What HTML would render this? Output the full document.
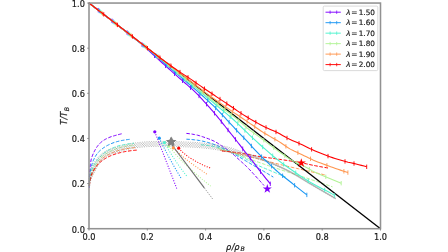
<!DOCTYPE html>
<html lang="en"><head><meta charset="utf-8"><title>T/TB vs ρ/ρB</title>
<style>html,body{margin:0;padding:0;background:#fff}svg{display:block}</style></head>
<body>
<svg width="448" height="252" viewBox="0 0 448 252">
<rect width="448" height="252" fill="#fff"/>
<g fill="none" stroke-linejoin="round">
<path d="M89.30 188.00 L89.30 186.77 L89.31 185.54 L89.32 184.32 L89.34 183.09 L89.36 181.86 L89.39 180.64 L89.41 179.41 L89.44 178.19 L89.47 176.97 L89.51 175.74 L89.55 174.52 L89.61 173.28 L89.68 172.05 L89.77 170.82 L89.86 169.58 L89.98 168.35 L90.10 167.13 L90.23 165.90 L90.38 164.69 L90.54 163.48 L90.71 162.28 L90.89 161.09 L91.10 159.91 L91.39 158.72 L91.74 157.53 L92.14 156.35 L92.59 155.18 L93.08 154.03 L93.60 152.90 L94.13 151.79 L94.68 150.71 L95.24 149.66 L95.85 148.61 L96.52 147.56 L97.24 146.52 L98.01 145.51 L98.81 144.54 L99.65 143.61 L100.51 142.75 L101.40 141.95 L102.31 141.23 L103.29 140.54 L104.32 139.89 L105.41 139.27 L106.52 138.68 L107.65 138.14 L108.79 137.63 L109.93 137.17 L111.06 136.74 L112.22 136.36 L113.40 136.00 L114.58 135.66 L115.77 135.34 L116.96 135.01 L118.14 134.69 L119.33 134.38 L120.51 134.07 L121.71 133.78 L122.90 133.50" stroke="#8000ff" stroke-width="1.0" stroke-dasharray="3.6 1.6"/>
<path d="M186.40 133.40 L188.03 133.55 L189.65 133.75 L191.27 133.98 L192.87 134.25 L194.47 134.55 L196.06 134.87 L197.63 135.21 L199.20 135.63 L200.76 136.11 L202.31 136.63 L203.85 137.16 L205.39 137.70 L206.92 138.24 L208.46 138.80 L209.98 139.38 L211.49 140.00 L212.97 140.65 L214.43 141.36 L215.85 142.13 L217.26 142.95 L218.65 143.81 L220.03 144.69 L221.40 145.57 L222.76 146.46 L224.11 147.37 L225.46 148.29 L226.79 149.23 L228.10 150.19 L229.40 151.17 L230.67 152.18 L231.92 153.21 L233.16 154.26 L234.38 155.34 L235.58 156.44 L236.78 157.54 L237.98 158.65 L239.18 159.75 L240.38 160.85 L241.59 161.94 L242.79 163.03 L243.99 164.13 L245.18 165.24 L246.36 166.37 L247.51 167.51 L248.65 168.67 L249.77 169.85 L250.89 171.03 L251.99 172.23 L253.10 173.43 L254.20 174.63 L255.30 175.82 L256.40 177.02 L257.49 178.22 L258.59 179.43 L259.68 180.64 L260.76 181.85 L261.84 183.06 L262.92 184.28 L264.00 185.50" stroke="#8000ff" stroke-width="1.0" stroke-dasharray="3.6 1.6"/>
<path d="M89.30 187.00 L89.31 185.77 L89.33 184.54 L89.36 183.31 L89.41 182.08 L89.46 180.85 L89.52 179.63 L89.58 178.41 L89.65 177.19 L89.75 175.96 L89.89 174.73 L90.05 173.51 L90.23 172.28 L90.44 171.06 L90.67 169.85 L90.91 168.64 L91.17 167.45 L91.44 166.27 L91.73 165.10 L92.07 163.92 L92.47 162.73 L92.90 161.55 L93.39 160.38 L93.90 159.22 L94.46 158.10 L95.04 157.00 L95.64 155.94 L96.27 154.94 L96.92 153.98 L97.65 153.05 L98.45 152.14 L99.33 151.26 L100.25 150.40 L101.22 149.58 L102.22 148.79 L103.23 148.04 L104.25 147.35 L105.27 146.70 L106.30 146.08 L107.36 145.48 L108.46 144.91 L109.57 144.37 L110.71 143.85 L111.86 143.37 L113.01 142.92 L114.17 142.50 L115.33 142.13 L116.50 141.78 L117.68 141.46 L118.87 141.16 L120.08 140.88 L121.28 140.62 L122.49 140.39 L123.70 140.18 L124.91 139.98 L126.12 139.79 L127.33 139.62 L128.55 139.46 L129.77 139.32 L131.00 139.20" stroke="#1996f3" stroke-width="1.0" stroke-dasharray="3.6 1.6"/>
<path d="M186.40 139.20 L188.03 139.27 L189.66 139.38 L191.28 139.51 L192.90 139.67 L194.52 139.84 L196.13 140.03 L197.74 140.24 L199.35 140.49 L200.95 140.79 L202.55 141.12 L204.13 141.47 L205.71 141.85 L207.28 142.27 L208.84 142.74 L210.39 143.24 L211.94 143.76 L213.48 144.29 L215.01 144.83 L216.54 145.40 L218.06 145.99 L219.57 146.60 L221.06 147.23 L222.55 147.89 L224.02 148.58 L225.47 149.31 L226.92 150.05 L228.36 150.82 L229.80 151.58 L231.23 152.36 L232.65 153.15 L234.06 153.96 L235.47 154.77 L236.88 155.59 L238.28 156.41 L239.68 157.24 L241.08 158.07 L242.48 158.90 L243.88 159.74 L245.27 160.57 L246.67 161.40 L248.07 162.23 L249.47 163.06 L250.87 163.88 L252.28 164.71 L253.68 165.53 L255.09 166.35 L256.49 167.17 L257.90 167.98 L259.32 168.79 L260.73 169.60 L262.14 170.41 L263.54 171.23 L264.94 172.06 L266.34 172.89 L267.74 173.72 L269.13 174.56 L270.52 175.40 L271.91 176.25 L273.30 177.10" stroke="#1996f3" stroke-width="1.0" stroke-dasharray="3.6 1.6"/>
<path d="M89.30 186.00 L89.32 184.82 L89.38 183.64 L89.46 182.47 L89.56 181.30 L89.68 180.14 L89.80 178.98 L89.95 177.82 L90.14 176.66 L90.37 175.49 L90.63 174.33 L90.93 173.17 L91.25 172.01 L91.60 170.88 L91.97 169.76 L92.36 168.67 L92.76 167.60 L93.18 166.56 L93.66 165.53 L94.20 164.50 L94.79 163.48 L95.43 162.47 L96.11 161.48 L96.83 160.50 L97.58 159.55 L98.35 158.62 L99.15 157.72 L99.95 156.85 L100.77 156.01 L101.58 155.21 L102.42 154.44 L103.30 153.70 L104.23 152.97 L105.19 152.27 L106.17 151.60 L107.18 150.95 L108.20 150.34 L109.23 149.76 L110.26 149.22 L111.30 148.70 L112.36 148.20 L113.43 147.72 L114.53 147.26 L115.63 146.84 L116.74 146.44 L117.86 146.09 L118.98 145.77 L120.11 145.48 L121.25 145.21 L122.40 144.97 L123.55 144.74 L124.71 144.52 L125.87 144.32 L127.02 144.13 L128.18 143.95 L129.34 143.78 L130.50 143.61 L131.67 143.46 L132.83 143.32 L134.00 143.20" stroke="#4df3ce" stroke-width="1.0" stroke-dasharray="3.6 1.6"/>
<path d="M200.90 144.80 L202.46 144.88 L204.00 145.00 L205.54 145.16 L207.08 145.36 L208.61 145.57 L210.13 145.81 L211.64 146.07 L213.15 146.34 L214.66 146.64 L216.15 147.01 L217.64 147.43 L219.12 147.90 L220.59 148.38 L222.06 148.85 L223.52 149.34 L224.98 149.84 L226.43 150.37 L227.88 150.91 L229.32 151.46 L230.76 152.02 L232.20 152.58 L233.63 153.16 L235.06 153.75 L236.48 154.36 L237.89 154.98 L239.29 155.62 L240.68 156.28 L242.07 156.96 L243.45 157.65 L244.82 158.36 L246.19 159.07 L247.55 159.80 L248.90 160.55 L250.23 161.33 L251.57 162.12 L252.91 162.89 L254.26 163.62 L255.63 164.31 L257.02 164.97 L258.42 165.62 L259.83 166.24 L261.25 166.86 L262.67 167.46 L264.10 168.05 L265.53 168.64 L266.96 169.23 L268.39 169.82 L269.81 170.42 L271.23 171.02 L272.65 171.62 L274.08 172.21 L275.50 172.81 L276.93 173.40 L278.35 173.99 L279.78 174.58 L281.21 175.16 L282.64 175.74 L284.07 176.32 L285.50 176.90" stroke="#4df3ce" stroke-width="1.0" stroke-dasharray="3.6 1.6"/>
<path d="M89.30 186.00 L89.35 184.84 L89.44 183.68 L89.56 182.53 L89.70 181.39 L89.86 180.25 L90.04 179.13 L90.28 178.00 L90.56 176.88 L90.88 175.76 L91.24 174.64 L91.63 173.53 L92.05 172.44 L92.48 171.36 L92.93 170.30 L93.38 169.26 L93.85 168.24 L94.36 167.21 L94.90 166.18 L95.47 165.15 L96.08 164.13 L96.72 163.12 L97.38 162.14 L98.07 161.17 L98.78 160.24 L99.51 159.34 L100.26 158.48 L101.03 157.66 L101.82 156.89 L102.65 156.16 L103.53 155.45 L104.47 154.78 L105.45 154.13 L106.45 153.51 L107.48 152.91 L108.51 152.34 L109.53 151.79 L110.55 151.27 L111.58 150.76 L112.63 150.27 L113.69 149.79 L114.76 149.34 L115.84 148.91 L116.92 148.52 L118.01 148.15 L119.11 147.82 L120.22 147.50 L121.33 147.20 L122.45 146.92 L123.58 146.66 L124.72 146.42 L125.85 146.20 L126.99 146.00 L128.12 145.82 L129.26 145.65 L130.40 145.49 L131.55 145.34 L132.70 145.21 L133.85 145.10 L135.00 145.00" stroke="#b2f396" stroke-width="1.0" stroke-dasharray="3.6 1.6"/>
<path d="M217.70 148.40 L219.69 148.92 L221.67 149.46 L223.65 150.02 L225.62 150.58 L227.59 151.17 L229.55 151.76 L231.51 152.37 L233.46 153.00 L235.41 153.64 L237.35 154.30 L239.28 155.00 L241.20 155.71 L243.12 156.45 L245.03 157.19 L246.94 157.94 L248.86 158.69 L250.77 159.43 L252.69 160.16 L254.62 160.86 L256.55 161.55 L258.49 162.23 L260.42 162.91 L262.36 163.58 L264.31 164.25 L266.25 164.91 L268.19 165.57 L270.14 166.22 L272.08 166.87 L274.03 167.52 L275.98 168.17 L277.93 168.81 L279.88 169.46 L281.82 170.10 L283.78 170.73 L285.73 171.36 L287.68 171.99 L289.64 172.61 L291.59 173.24 L293.55 173.86 L295.51 174.48 L297.46 175.10 L299.42 175.72 L301.37 176.35 L303.32 176.99 L305.27 177.62 L307.22 178.27 L309.17 178.91 L311.12 179.56 L313.07 180.21 L315.01 180.86 L316.96 181.51 L318.90 182.16 L320.85 182.82 L322.79 183.48 L324.73 184.14 L326.68 184.80 L328.62 185.46 L330.56 186.13 L332.50 186.80" stroke="#b2f396" stroke-width="1.0" stroke-dasharray="3.6 1.6"/>
<path d="M89.30 186.00 L89.40 184.86 L89.53 183.73 L89.70 182.61 L89.90 181.50 L90.13 180.42 L90.41 179.33 L90.75 178.26 L91.14 177.19 L91.57 176.13 L92.03 175.08 L92.51 174.04 L93.01 173.01 L93.51 171.99 L94.01 170.98 L94.51 169.97 L95.03 168.94 L95.56 167.91 L96.11 166.88 L96.68 165.85 L97.27 164.84 L97.87 163.85 L98.50 162.89 L99.16 161.95 L99.83 161.06 L100.54 160.22 L101.26 159.43 L102.02 158.70 L102.85 158.01 L103.75 157.35 L104.69 156.71 L105.68 156.11 L106.70 155.54 L107.73 154.98 L108.76 154.46 L109.78 153.95 L110.80 153.47 L111.82 153.00 L112.86 152.54 L113.91 152.10 L114.97 151.68 L116.04 151.29 L117.11 150.93 L118.19 150.59 L119.27 150.28 L120.36 149.99 L121.46 149.72 L122.56 149.46 L123.67 149.21 L124.79 148.99 L125.90 148.78 L127.01 148.60 L128.13 148.42 L129.25 148.26 L130.37 148.10 L131.49 147.95 L132.61 147.82 L133.74 147.70 L134.87 147.59 L136.00 147.50" stroke="#ff964f" stroke-width="1.0" stroke-dasharray="3.6 1.6"/>
<path d="M220.00 150.00 L221.80 150.34 L223.61 150.68 L225.41 151.04 L227.21 151.40 L229.00 151.77 L230.80 152.14 L232.59 152.53 L234.39 152.92 L236.18 153.31 L237.96 153.72 L239.75 154.14 L241.53 154.57 L243.31 155.01 L245.09 155.45 L246.87 155.91 L248.65 156.36 L250.43 156.82 L252.20 157.28 L253.98 157.74 L255.76 158.19 L257.53 158.65 L259.31 159.11 L261.08 159.58 L262.86 160.05 L264.63 160.52 L266.41 160.99 L268.18 161.46 L269.95 161.93 L271.73 162.39 L273.50 162.86 L275.28 163.31 L277.06 163.77 L278.84 164.21 L280.62 164.65 L282.40 165.08 L284.18 165.51 L285.97 165.93 L287.76 166.35 L289.54 166.76 L291.33 167.17 L293.12 167.58 L294.91 167.99 L296.70 168.40 L298.49 168.81 L300.28 169.21 L302.06 169.62 L303.85 170.03 L305.64 170.45 L307.43 170.86 L309.21 171.28 L311.00 171.69 L312.79 172.10 L314.58 172.52 L316.36 172.93 L318.15 173.35 L319.94 173.76 L321.73 174.17 L323.51 174.59 L325.30 175.00" stroke="#ff964f" stroke-width="1.0" stroke-dasharray="3.6 1.6"/>
<path d="M89.30 186.00 L89.47 184.89 L89.64 183.79 L89.82 182.68 L90.00 181.57 L90.19 180.47 L90.37 179.35 L90.55 178.23 L90.75 177.13 L90.98 176.05 L91.28 175.00 L91.66 173.96 L92.11 172.94 L92.62 171.92 L93.18 170.93 L93.79 169.95 L94.42 168.99 L95.06 168.06 L95.71 167.16 L96.37 166.28 L97.07 165.42 L97.82 164.57 L98.61 163.75 L99.42 162.95 L100.26 162.19 L101.12 161.47 L101.98 160.79 L102.87 160.13 L103.79 159.49 L104.73 158.87 L105.70 158.28 L106.68 157.71 L107.68 157.17 L108.68 156.66 L109.69 156.18 L110.70 155.74 L111.73 155.32 L112.78 154.91 L113.84 154.53 L114.90 154.17 L115.98 153.82 L117.06 153.50 L118.13 153.20 L119.21 152.91 L120.30 152.64 L121.39 152.38 L122.48 152.13 L123.58 151.90 L124.68 151.68 L125.79 151.48 L126.89 151.30 L127.99 151.13 L129.10 150.97 L130.21 150.81 L131.32 150.67 L132.43 150.53 L133.55 150.40 L134.66 150.29 L135.78 150.19 L136.90 150.10" stroke="#ff0000" stroke-width="1.0" stroke-dasharray="3.6 1.6"/>
<path d="M221.90 151.00 L223.72 151.14 L225.54 151.29 L227.35 151.46 L229.17 151.65 L230.98 151.85 L232.79 152.06 L234.60 152.28 L236.40 152.51 L238.21 152.75 L240.01 153.00 L241.80 153.30 L243.60 153.62 L245.39 153.97 L247.17 154.32 L248.96 154.68 L250.75 155.03 L252.54 155.37 L254.34 155.69 L256.14 155.98 L257.94 156.26 L259.74 156.53 L261.54 156.79 L263.34 157.05 L265.15 157.30 L266.95 157.55 L268.76 157.80 L270.56 158.05 L272.37 158.29 L274.18 158.54 L275.98 158.80 L277.78 159.06 L279.59 159.32 L281.39 159.59 L283.19 159.86 L284.99 160.14 L286.80 160.41 L288.60 160.68 L290.40 160.96 L292.20 161.24 L294.00 161.53 L295.80 161.82 L297.59 162.12 L299.39 162.44 L301.18 162.76 L302.97 163.10 L304.75 163.48 L306.53 163.87 L308.31 164.27 L310.09 164.66 L311.87 165.05 L313.66 165.41 L315.44 165.76 L317.23 166.10 L319.02 166.43 L320.82 166.76 L322.61 167.08 L324.41 167.40 L326.20 167.70 L328.00 168.00" stroke="#ff0000" stroke-width="1.0" stroke-dasharray="3.6 1.6"/>
<path d="M88.82 185.97 L88.92 184.19 L89.07 182.41 L89.05 180.62 L89.08 178.82 L89.23 176.98 L89.50 175.12 L89.85 173.28 L90.27 171.47 L90.73 169.69 L91.32 167.99 L92.10 166.34 L92.98 164.67 L93.93 163.02 L94.96 161.39 L96.06 159.81 L97.23 158.30 L98.46 156.87 L99.76 155.54 L101.14 154.30 L102.67 153.13 L104.29 152.05 L105.98 151.06 L107.71 150.18 L109.45 149.44 L111.21 148.81 L112.99 148.27 L114.75 147.79 L116.49 147.34 L118.19 146.90 L119.88 146.44 L121.58 145.98 L123.29 145.51 L125.02 145.05 L126.77 144.60 L128.52 144.18 L130.30 143.79 L132.09 143.44 L133.90 143.15 L135.68 142.92 L137.44 142.71 L139.20 142.51 L140.98 142.32 L142.76 142.15 L144.54 141.99 L146.34 141.86 L148.13 141.74 L149.94 141.66 L151.73 141.60 L153.51 141.57 L155.27 141.54 L157.03 141.51 L158.80 141.49 L160.57 141.47 L162.33 141.45 L164.10 141.43 L165.87 141.42 L167.64 141.41 L169.41 141.40 L171.19 141.40 L173.01 141.43 L174.81 141.51 L176.59 141.61 L178.35 141.71 L180.09 141.80 L181.84 141.88 L183.60 141.95 L185.36 142.03 L187.12 142.10 L188.89 142.18 L190.66 142.26 L192.43 142.35 L194.20 142.44 L195.97 142.55 L197.75 142.67 L199.53 142.80 L201.31 142.95 L203.08 143.12 L204.86 143.31 L206.63 143.50 L208.40 143.71 L210.16 143.93 L211.92 144.16 L213.68 144.40 L215.45 144.66 L217.22 144.94 L218.99 145.25 L220.75 145.58 L222.51 145.92 L224.26 146.29 L226.00 146.67 L227.74 147.06 L229.46 147.50 L231.19 148.00 L232.92 148.54 L234.63 149.12 L236.31 149.72 L237.98 150.33 L239.63 150.93 L241.27 151.51 L242.91 152.06 L244.57 152.58 L246.25 153.09 L247.94 153.59 L249.64 154.09 L251.34 154.60 L253.04 155.14 L254.73 155.70 L256.41 156.30 L258.07 156.93 L259.72 157.59 L261.36 158.26 L263.00 158.96 L264.62 159.67 L266.24 160.39 L267.85 161.13 L269.48 161.81 L271.11 162.49 L272.74 163.16 L274.36 163.85 L275.99 164.55 L277.61 165.26 L279.22 165.98 L280.83 166.71 L282.44 167.45 L284.03 168.21 L285.62 168.98 L287.20 169.77 L288.78 170.57 L290.34 171.38 L291.89 172.22 L293.43 173.08 L294.97 173.95 L296.49 174.84 L298.01 175.74 L299.53 176.65 L301.04 177.57 L302.54 178.49 L304.05 179.41 L305.55 180.34 L307.06 181.26 L308.56 182.17 L310.07 183.08 L311.59 183.98 L313.11 184.87 L314.63 185.76 L316.15 186.65 L317.67 187.54 L319.19 188.43 L320.71 189.32 L322.23 190.21 L323.76 191.10 L325.28 191.98 L326.80 192.87 L328.32 193.76 L329.85 194.64 L331.37 195.53 L332.89 196.42 L334.42 197.30 L335.94 198.19" stroke="#808080" stroke-width="1" stroke-dasharray="1 1.3" stroke-dashoffset="0.0" opacity="0.6"/>
<path d="M89.06 185.99 L89.16 184.21 L89.32 182.44 L89.42 180.67 L89.57 178.91 L89.84 177.13 L90.22 175.35 L90.68 173.58 L91.20 171.83 L91.77 170.13 L92.42 168.49 L93.18 166.88 L94.03 165.25 L94.96 163.64 L95.96 162.06 L97.03 160.52 L98.16 159.06 L99.35 157.68 L100.58 156.40 L101.91 155.23 L103.37 154.11 L104.93 153.07 L106.56 152.11 L108.22 151.27 L109.89 150.55 L111.59 149.95 L113.32 149.42 L115.06 148.95 L116.79 148.50 L118.50 148.06 L120.19 147.60 L121.89 147.14 L123.61 146.67 L125.33 146.21 L127.05 145.77 L128.79 145.35 L130.54 144.96 L132.30 144.63 L134.07 144.34 L135.83 144.11 L137.58 143.90 L139.34 143.70 L141.10 143.52 L142.87 143.34 L144.64 143.19 L146.42 143.05 L148.20 142.94 L149.98 142.86 L151.76 142.80 L153.53 142.77 L155.29 142.74 L157.05 142.71 L158.82 142.69 L160.58 142.67 L162.35 142.65 L164.11 142.63 L165.88 142.62 L167.64 142.61 L169.41 142.60 L171.18 142.60 L172.97 142.63 L174.75 142.71 L176.52 142.80 L178.28 142.91 L180.03 143.00 L181.79 143.08 L183.55 143.15 L185.31 143.23 L187.07 143.30 L188.83 143.38 L190.60 143.46 L192.36 143.55 L194.13 143.64 L195.89 143.75 L197.66 143.86 L199.43 144.00 L201.20 144.15 L202.96 144.32 L204.73 144.50 L206.49 144.70 L208.25 144.90 L210.01 145.12 L211.76 145.35 L213.51 145.59 L215.27 145.85 L217.02 146.13 L218.77 146.43 L220.52 146.75 L222.27 147.10 L224.01 147.46 L225.74 147.84 L227.47 148.23 L229.19 148.65 L230.91 149.10 L232.62 149.60 L234.32 150.13 L236.01 150.69 L237.68 151.27 L239.35 151.83 L241.01 152.38 L242.68 152.89 L244.36 153.38 L246.06 153.85 L247.76 154.31 L249.47 154.77 L251.17 155.24 L252.87 155.74 L254.56 156.26 L256.24 156.82 L257.91 157.41 L259.56 158.03 L261.22 158.66 L262.86 159.32 L264.49 160.00 L266.12 160.68 L267.75 161.38 L269.38 162.06 L271.01 162.73 L272.64 163.41 L274.26 164.09 L275.88 164.79 L277.50 165.49 L279.12 166.21 L280.72 166.95 L282.33 167.69 L283.92 168.45 L285.51 169.21 L287.09 170.00 L288.66 170.79 L290.22 171.61 L291.77 172.44 L293.31 173.30 L294.84 174.17 L296.36 175.06 L297.88 175.96 L299.39 176.87 L300.90 177.78 L302.41 178.70 L303.92 179.63 L305.42 180.55 L306.93 181.47 L308.44 182.39 L309.95 183.30 L311.46 184.20 L312.98 185.09 L314.50 185.98 L316.02 186.87 L317.54 187.75 L319.07 188.64 L320.59 189.53 L322.11 190.42 L323.63 191.31 L325.16 192.19 L326.68 193.08 L328.20 193.97 L329.72 194.85 L331.25 195.74 L332.77 196.62 L334.30 197.51 L335.82 198.39" stroke="#808080" stroke-width="1" stroke-dasharray="1 1.3" stroke-dashoffset="0.5" opacity="0.6"/>
<path d="M89.30 186.00 L89.40 184.23 L89.57 182.47 L89.80 180.73 L90.07 179.01 L90.45 177.29 L90.94 175.57 L91.51 173.87 L92.14 172.20 L92.81 170.57 L93.51 168.98 L94.25 167.41 L95.08 165.83 L95.98 164.26 L96.96 162.72 L98.00 161.23 L99.09 159.81 L100.23 158.49 L101.41 157.27 L102.67 156.15 L104.06 155.09 L105.56 154.08 L107.13 153.17 L108.73 152.36 L110.33 151.67 L111.96 151.09 L113.65 150.57 L115.37 150.11 L117.09 149.66 L118.80 149.22 L120.51 148.76 L122.21 148.29 L123.92 147.83 L125.63 147.37 L127.34 146.93 L129.06 146.52 L130.78 146.14 L132.51 145.81 L134.24 145.53 L135.98 145.30 L137.72 145.10 L139.47 144.90 L141.22 144.71 L142.98 144.54 L144.74 144.38 L146.50 144.25 L148.27 144.14 L150.03 144.06 L151.79 144.00 L153.55 143.97 L155.31 143.94 L157.07 143.91 L158.83 143.89 L160.60 143.87 L162.36 143.85 L164.12 143.83 L165.89 143.82 L167.65 143.81 L169.41 143.80 L171.17 143.80 L172.93 143.83 L174.69 143.91 L176.45 144.00 L178.21 144.11 L179.98 144.20 L181.74 144.28 L183.50 144.35 L185.26 144.43 L187.02 144.50 L188.78 144.58 L190.54 144.66 L192.30 144.74 L194.06 144.84 L195.82 144.94 L197.58 145.06 L199.33 145.19 L201.09 145.35 L202.85 145.51 L204.60 145.69 L206.35 145.89 L208.11 146.09 L209.86 146.31 L211.60 146.54 L213.34 146.78 L215.08 147.03 L216.82 147.31 L218.56 147.61 L220.30 147.93 L222.03 148.28 L223.76 148.63 L225.48 149.01 L227.20 149.40 L228.92 149.79 L230.63 150.20 L232.33 150.66 L234.02 151.15 L235.70 151.67 L237.39 152.20 L239.07 152.73 L240.76 153.24 L242.45 153.72 L244.16 154.18 L245.87 154.61 L247.58 155.03 L249.30 155.45 L251.01 155.88 L252.71 156.34 L254.40 156.82 L256.08 157.34 L257.75 157.89 L259.41 158.46 L261.07 159.06 L262.72 159.68 L264.37 160.32 L266.01 160.97 L267.65 161.63 L269.28 162.30 L270.91 162.97 L272.53 163.65 L274.16 164.33 L275.78 165.03 L277.40 165.73 L279.01 166.45 L280.62 167.18 L282.22 167.92 L283.81 168.68 L285.40 169.45 L286.97 170.23 L288.54 171.02 L290.10 171.83 L291.64 172.67 L293.18 173.52 L294.71 174.39 L296.23 175.28 L297.75 176.18 L299.26 177.08 L300.77 178.00 L302.28 178.92 L303.79 179.84 L305.29 180.76 L306.80 181.68 L308.31 182.60 L309.82 183.51 L311.33 184.41 L312.86 185.30 L314.38 186.19 L315.90 187.08 L317.42 187.97 L318.94 188.85 L320.47 189.74 L321.99 190.63 L323.51 191.52 L325.03 192.40 L326.56 193.29 L328.08 194.18 L329.60 195.06 L331.13 195.95 L332.65 196.83 L334.18 197.72 L335.70 198.60" stroke="#808080" stroke-width="1" stroke-dasharray="1 1.3" stroke-dashoffset="1.0" opacity="0.6"/>
<path d="M89.54 186.01 L89.63 184.24 L89.82 182.49 L90.17 180.78 L90.56 179.10 L91.06 177.44 L91.66 175.79 L92.34 174.17 L93.08 172.57 L93.85 171.01 L94.60 169.48 L95.33 167.95 L96.13 166.41 L97.01 164.88 L97.96 163.38 L98.96 161.94 L100.02 160.57 L101.12 159.30 L102.24 158.14 L103.43 157.08 L104.76 156.06 L106.20 155.10 L107.71 154.22 L109.24 153.44 L110.77 152.79 L112.34 152.23 L113.98 151.73 L115.67 151.27 L117.39 150.83 L119.11 150.38 L120.82 149.92 L122.53 149.45 L124.23 148.99 L125.93 148.53 L127.63 148.09 L129.33 147.69 L131.02 147.32 L132.72 146.99 L134.41 146.72 L136.12 146.50 L137.86 146.29 L139.60 146.09 L141.34 145.90 L143.09 145.73 L144.84 145.58 L146.59 145.45 L148.33 145.34 L150.07 145.26 L151.82 145.20 L153.57 145.17 L155.33 145.14 L157.09 145.11 L158.85 145.09 L160.61 145.07 L162.37 145.05 L164.13 145.03 L165.89 145.02 L167.65 145.01 L169.41 145.00 L171.16 145.00 L172.90 145.03 L174.64 145.10 L176.39 145.20 L178.15 145.30 L179.92 145.40 L181.68 145.48 L183.45 145.55 L185.21 145.63 L186.97 145.70 L188.73 145.78 L190.49 145.86 L192.24 145.94 L193.99 146.04 L195.74 146.14 L197.49 146.26 L199.24 146.39 L200.98 146.54 L202.73 146.71 L204.47 146.89 L206.22 147.08 L207.96 147.29 L209.70 147.50 L211.44 147.73 L213.18 147.97 L214.90 148.22 L216.63 148.49 L218.35 148.79 L220.07 149.11 L221.79 149.45 L223.51 149.81 L225.22 150.18 L226.94 150.57 L228.65 150.94 L230.35 151.31 L232.03 151.71 L233.71 152.16 L235.40 152.64 L237.09 153.14 L238.79 153.63 L240.50 154.11 L242.23 154.56 L243.95 154.97 L245.68 155.37 L247.41 155.75 L249.13 156.13 L250.84 156.52 L252.54 156.94 L254.23 157.38 L255.91 157.85 L257.58 158.36 L259.25 158.90 L260.92 159.46 L262.58 160.05 L264.24 160.65 L265.89 161.26 L267.54 161.88 L269.18 162.54 L270.81 163.22 L272.43 163.89 L274.06 164.57 L275.67 165.27 L277.29 165.97 L278.90 166.69 L280.51 167.42 L282.11 168.16 L283.70 168.91 L285.28 169.68 L286.86 170.46 L288.42 171.25 L289.98 172.06 L291.52 172.89 L293.06 173.74 L294.59 174.61 L296.11 175.50 L297.62 176.39 L299.13 177.30 L300.64 178.21 L302.15 179.13 L303.65 180.05 L305.16 180.98 L306.67 181.90 L308.18 182.81 L309.69 183.72 L311.21 184.62 L312.73 185.51 L314.25 186.40 L315.77 187.29 L317.30 188.18 L318.82 189.07 L320.34 189.95 L321.86 190.84 L323.39 191.73 L324.91 192.61 L326.43 193.50 L327.96 194.39 L329.48 195.27 L331.01 196.15 L332.53 197.04 L334.06 197.92 L335.58 198.81" stroke="#808080" stroke-width="1" stroke-dasharray="1 1.3" stroke-dashoffset="1.5" opacity="0.6"/>
<path d="M89.78 186.03 L89.87 184.26 L90.07 182.52 L90.54 180.83 L91.06 179.19 L91.67 177.59 L92.38 176.02 L93.17 174.47 L94.01 172.94 L94.90 171.46 L95.69 169.98 L96.40 168.48 L97.18 166.99 L98.04 165.50 L98.96 164.05 L99.93 162.65 L100.95 161.33 L102.00 160.11 L103.07 159.00 L104.20 158.01 L105.46 157.04 L106.84 156.12 L108.28 155.27 L109.75 154.53 L111.21 153.90 L112.72 153.37 L114.31 152.88 L115.98 152.43 L117.69 151.99 L119.42 151.54 L121.14 151.08 L122.84 150.61 L124.55 150.14 L126.24 149.69 L127.92 149.26 L129.60 148.86 L131.27 148.49 L132.93 148.17 L134.58 147.90 L136.27 147.69 L138.00 147.48 L139.73 147.28 L141.47 147.10 L143.20 146.93 L144.94 146.78 L146.67 146.64 L148.40 146.54 L150.12 146.46 L151.85 146.40 L153.59 146.37 L155.35 146.34 L157.11 146.31 L158.87 146.29 L160.62 146.27 L162.38 146.25 L164.14 146.23 L165.90 146.22 L167.66 146.21 L169.42 146.20 L171.15 146.20 L172.86 146.23 L174.58 146.30 L176.32 146.40 L178.08 146.50 L179.86 146.60 L181.63 146.68 L183.40 146.75 L185.16 146.82 L186.92 146.90 L188.67 146.97 L190.43 147.05 L192.18 147.14 L193.93 147.23 L195.67 147.34 L197.40 147.45 L199.14 147.59 L200.87 147.74 L202.61 147.90 L204.35 148.08 L206.08 148.27 L207.82 148.48 L209.55 148.69 L211.28 148.92 L213.01 149.15 L214.72 149.40 L216.43 149.68 L218.14 149.97 L219.85 150.29 L221.55 150.63 L223.26 150.98 L224.97 151.35 L226.67 151.74 L228.38 152.09 L230.07 152.41 L231.74 152.77 L233.41 153.18 L235.10 153.62 L236.80 154.07 L238.51 154.53 L240.25 154.97 L242.00 155.39 L243.75 155.77 L245.49 156.12 L247.23 156.47 L248.96 156.81 L250.67 157.16 L252.38 157.53 L254.07 157.93 L255.75 158.37 L257.42 158.84 L259.10 159.34 L260.77 159.86 L262.44 160.41 L264.11 160.97 L265.78 161.55 L267.44 162.14 L269.08 162.79 L270.71 163.46 L272.33 164.13 L273.95 164.81 L275.57 165.51 L277.19 166.21 L278.80 166.93 L280.40 167.65 L282.00 168.39 L283.59 169.14 L285.17 169.91 L286.74 170.69 L288.31 171.48 L289.86 172.29 L291.40 173.12 L292.93 173.97 L294.46 174.83 L295.98 175.72 L297.49 176.61 L299.00 177.52 L300.51 178.43 L302.02 179.35 L303.52 180.27 L305.03 181.19 L306.54 182.11 L308.05 183.03 L309.56 183.94 L311.08 184.84 L312.61 185.73 L314.13 186.62 L315.65 187.50 L317.17 188.39 L318.70 189.28 L320.22 190.17 L321.74 191.05 L323.26 191.94 L324.79 192.82 L326.31 193.71 L327.84 194.59 L329.36 195.48 L330.89 196.36 L332.41 197.25 L333.93 198.13 L335.46 199.01" stroke="#808080" stroke-width="1" stroke-dasharray="1 1.3" stroke-dashoffset="2.0" opacity="0.6"/>
<path d="M154.80 131.80 L155.37 133.26 L155.93 134.73 L156.50 136.19 L157.06 137.66 L157.63 139.12 L158.19 140.59 L158.76 142.05 L159.33 143.52 L159.89 144.98 L160.46 146.44 L161.02 147.91 L161.59 149.37 L162.16 150.84 L162.72 152.30 L163.29 153.77 L163.85 155.23 L164.42 156.69 L164.99 158.16 L165.55 159.62 L166.12 161.09 L166.69 162.55 L167.25 164.02 L167.82 165.48 L168.39 166.94 L168.96 168.41 L169.52 169.87 L170.09 171.33 L170.66 172.80 L171.22 174.26 L171.79 175.73 L172.36 177.19 L172.93 178.65 L173.49 180.12 L174.06 181.58 L174.63 183.05 L175.20 184.51 L175.76 185.97 L176.33 187.44 L176.90 188.90" stroke="#8000ff" stroke-width="1.05" stroke-dasharray="1.05 1.55"/>
<path d="M159.30 138.20 L159.81 139.25 L160.32 140.31 L160.83 141.36 L161.34 142.41 L161.86 143.46 L162.38 144.50 L162.91 145.55 L163.43 146.59 L163.96 147.63 L164.49 148.68 L165.03 149.71 L165.57 150.75 L166.11 151.79 L166.65 152.82 L167.19 153.86 L167.74 154.89 L168.29 155.92 L168.84 156.95 L169.40 157.97 L169.95 159.00 L170.51 160.03 L171.08 161.05 L171.64 162.07 L172.21 163.09 L172.78 164.11 L173.36 165.12 L173.94 166.14 L174.52 167.15 L175.10 168.17 L175.69 169.18 L176.28 170.18 L176.87 171.19 L177.47 172.20 L178.07 173.20 L178.67 174.20 L179.27 175.21 L179.88 176.21 L180.49 177.20 L181.10 178.20" stroke="#1996f3" stroke-width="1.05" stroke-dasharray="1.05 1.55"/>
<path d="M164.40 142.60 L164.92 143.54 L165.44 144.47 L165.97 145.40 L166.50 146.33 L167.04 147.25 L167.58 148.17 L168.12 149.09 L168.67 150.01 L169.22 150.93 L169.77 151.84 L170.33 152.75 L170.90 153.65 L171.46 154.56 L172.04 155.46 L172.61 156.35 L173.19 157.25 L173.77 158.14 L174.36 159.03 L174.94 159.92 L175.54 160.80 L176.13 161.68 L176.74 162.56 L177.34 163.44 L177.95 164.31 L178.57 165.18 L179.19 166.05 L179.81 166.92 L180.44 167.78 L181.07 168.64 L181.70 169.50 L182.34 170.35 L182.99 171.21 L183.63 172.06 L184.28 172.90 L184.94 173.75 L185.60 174.59 L186.26 175.43 L186.93 176.27 L187.60 177.10" stroke="#4df3ce" stroke-width="1.05" stroke-dasharray="1.05 1.55"/>
<path d="M168.80 146.10 L169.74 147.26 L170.68 148.42 L171.63 149.57 L172.59 150.71 L173.56 151.84 L174.54 152.97 L175.52 154.09 L176.51 155.20 L177.51 156.30 L178.52 157.39 L179.54 158.47 L180.56 159.55 L181.60 160.61 L182.64 161.67 L183.69 162.71 L184.76 163.75 L185.83 164.79 L186.91 165.81 L188.00 166.83 L189.10 167.84 L190.20 168.84 L191.31 169.84 L192.42 170.84 L193.53 171.83 L194.65 172.81 L195.77 173.80 L196.89 174.77 L198.01 175.75 L199.14 176.71 L200.28 177.67 L201.41 178.63 L202.56 179.58 L203.71 180.53 L204.86 181.47 L206.02 182.41 L207.18 183.34 L208.35 184.26 L209.52 185.18 L210.70 186.10" stroke="#b2f396" stroke-width="1.05" stroke-dasharray="1.05 1.55"/>
<path d="M173.30 147.90 L174.11 148.69 L174.93 149.48 L175.75 150.27 L176.58 151.04 L177.42 151.81 L178.25 152.58 L179.10 153.34 L179.94 154.09 L180.80 154.83 L181.65 155.58 L182.51 156.31 L183.38 157.04 L184.25 157.76 L185.12 158.48 L186.00 159.19 L186.88 159.90 L187.76 160.60 L188.66 161.29 L189.56 161.97 L190.47 162.65 L191.39 163.31 L192.31 163.98 L193.23 164.64 L194.16 165.29 L195.08 165.94 L196.01 166.60 L196.94 167.25 L197.86 167.90 L198.79 168.56 L199.71 169.21 L200.64 169.86 L201.57 170.51 L202.50 171.16 L203.43 171.80 L204.36 172.44 L205.29 173.09 L206.23 173.73 L207.16 174.36 L208.10 175.00" stroke="#ff964f" stroke-width="1.05" stroke-dasharray="1.05 1.55"/>
<path d="M178.70 148.20 L179.37 148.92 L180.06 149.63 L180.75 150.33 L181.46 151.02 L182.17 151.69 L182.89 152.35 L183.62 153.00 L184.36 153.64 L185.11 154.26 L185.86 154.88 L186.62 155.47 L187.39 156.06 L188.17 156.63 L188.95 157.19 L189.76 157.74 L190.57 158.27 L191.40 158.78 L192.24 159.29 L193.08 159.78 L193.93 160.27 L194.79 160.75 L195.65 161.22 L196.50 161.69 L197.35 162.16 L198.21 162.62 L199.07 163.08 L199.94 163.54 L200.81 163.98 L201.68 164.42 L202.56 164.85 L203.44 165.26 L204.33 165.66 L205.22 166.05 L206.12 166.42 L207.02 166.78 L207.93 167.13 L208.85 167.47 L209.77 167.79 L210.70 168.10" stroke="#ff0000" stroke-width="1.05" stroke-dasharray="1.05 1.55"/>
<path d="M172 145 L204.3 187.9" stroke="#707070" stroke-width="1.2"/>
<path d="M204.3 187.9 L212.6 198.9" stroke="#808080" stroke-width="1" stroke-dasharray="1 1.5"/>
<path d="M89.00 3.05 L380.50 228.70" stroke="#000" stroke-width="1.35"/>
<path d="M89.00 3.05 L90.72 4.36 L92.43 5.68 L94.15 7.00 L95.86 8.32 L97.57 9.63 L99.28 10.96 L101.00 12.28 L102.71 13.60 L104.42 14.92 L106.12 16.25 L107.83 17.57 L109.54 18.90 L111.24 20.23 L112.95 21.56 L114.65 22.89 L116.36 24.22 L118.06 25.55 L119.77 26.88 L121.48 28.20 L123.19 29.52 L124.90 30.85 L126.61 32.17 L128.32 33.49 L130.03 34.82 L131.73 36.16 L133.43 37.50 L135.12 38.85 L136.80 40.20 L138.47 41.57 L140.13 42.95 L141.78 44.35 L143.41 45.76 L145.03 47.19 L146.64 48.64 L148.24 50.09 L149.84 51.55 L151.43 53.01 L153.03 54.47 L154.63 55.93 L156.22 57.38 L157.82 58.85 L159.41 60.31 L161.00 61.77 L162.60 63.22 L164.21 64.67 L165.82 66.12 L167.43 67.56 L169.04 68.99 L170.66 70.43 L172.28 71.86 L173.91 73.29 L175.53 74.71 L177.16 76.13 L178.79 77.55 L180.42 78.98 L182.04 80.40 L183.68 81.82 L185.32 83.23 L186.97 84.64 L188.61 86.05 L190.24 87.47 L191.85 88.91 L193.45 90.36 L195.01 91.85 L196.54 93.36 L198.05 94.91 L199.54 96.47 L201.01 98.06 L202.47 99.66 L203.92 101.26 L205.37 102.88 L206.81 104.49 L208.25 106.11 L209.68 107.72 L211.11 109.34 L212.54 110.97 L213.95 112.61 L215.35 114.26 L216.74 115.91 L218.11 117.58 L219.48 119.26 L220.83 120.95 L222.17 122.64 L223.51 124.34 L224.85 126.03 L226.20 127.72 L227.55 129.42 L228.89 131.11 L230.24 132.80 L231.58 134.49 L232.92 136.19 L234.26 137.88 L235.60 139.58 L236.93 141.28 L238.26 142.99 L239.59 144.70 L240.91 146.41 L242.23 148.12 L243.55 149.83 L244.88 151.54 L246.22 153.24 L247.56 154.93 L248.91 156.62 L250.26 158.30 L251.61 160.00 L252.94 161.70 L254.26 163.41 L255.56 165.14 L256.86 166.87 L258.16 168.60 L259.46 170.32 L260.78 172.03 L262.12 173.73 L263.46 175.43 L264.81 177.11 L266.17 178.80 L267.54 180.47 L268.91 182.14 L270.30 183.80" stroke="#8000ff" stroke-width="1.1"/>
<path d="M98.25 7.96V12.36M112.00 18.62V23.02M127.00 30.27V34.67M142.00 42.34V46.74M154.50 53.61V58.01M165.50 63.63V68.03M174.50 71.61V76.01M182.50 78.60V83.00M190.50 85.50V89.90M199.00 93.71V98.11M206.50 101.95V106.35M214.50 111.06V115.46M221.30 119.34V123.74M228.00 127.79V132.19M235.50 137.25V141.65M242.70 146.53V150.93M250.30 156.15V160.55M260.50 169.47V173.87M270.30 181.60V186.00" stroke="#8000ff" stroke-width="0.9"/>
<path d="M89.00 3.05 L90.94 4.53 L92.89 6.01 L94.83 7.50 L96.77 8.98 L98.71 10.47 L100.64 11.96 L102.58 13.45 L104.51 14.94 L106.45 16.44 L108.38 17.94 L110.31 19.43 L112.24 20.93 L114.16 22.44 L116.09 23.94 L118.01 25.45 L119.94 26.95 L121.86 28.46 L123.78 29.97 L125.70 31.48 L127.62 32.99 L129.54 34.51 L131.46 36.02 L133.37 37.53 L135.29 39.05 L137.20 40.57 L139.11 42.10 L141.02 43.63 L142.92 45.16 L144.82 46.70 L146.71 48.24 L148.60 49.79 L150.48 51.35 L152.35 52.92 L154.22 54.49 L156.08 56.08 L157.94 57.66 L159.79 59.26 L161.64 60.85 L163.49 62.45 L165.35 64.04 L167.20 65.64 L169.05 67.23 L170.91 68.82 L172.77 70.41 L174.63 71.99 L176.50 73.56 L178.37 75.13 L180.24 76.70 L182.12 78.27 L183.99 79.84 L185.86 81.41 L187.73 82.98 L189.60 84.56 L191.46 86.14 L193.32 87.73 L195.17 89.33 L197.01 90.93 L198.84 92.54 L200.67 94.16 L202.50 95.78 L204.33 97.41 L206.14 99.05 L207.95 100.70 L209.74 102.36 L211.52 104.03 L213.28 105.72 L215.02 107.43 L216.75 109.16 L218.46 110.91 L220.15 112.67 L221.84 114.44 L223.52 116.21 L225.19 117.99 L226.87 119.77 L228.53 121.56 L230.18 123.37 L231.83 125.17 L233.49 126.96 L235.16 128.75 L236.84 130.52 L238.53 132.29 L240.22 134.05 L241.92 135.81 L243.63 137.55 L245.33 139.30 L247.02 141.07 L248.67 142.88 L250.29 144.70 L251.91 146.54 L253.53 148.36 L255.18 150.17 L256.86 151.93 L258.57 153.68 L260.31 155.40 L262.05 157.11 L263.81 158.81 L265.57 160.50 L267.34 162.19 L269.11 163.88 L270.89 165.55 L272.68 167.22 L274.48 168.87 L276.30 170.50 L278.14 172.11 L280.00 173.68 L281.90 175.21 L283.82 176.73 L285.75 178.23 L287.68 179.74 L289.59 181.26 L291.50 182.79 L293.40 184.32 L295.31 185.84 L297.22 187.37 L299.13 188.89 L301.04 190.41 L302.97 191.91 L304.90 193.41 L306.84 194.90" stroke="#1996f3" stroke-width="1.1"/>
<path d="M99.35 8.76V13.16M113.10 19.41V23.81M128.10 31.17V35.57M143.10 43.10V47.50M155.60 53.47V57.87M166.60 62.93V67.33M175.60 70.60V75.00M183.60 77.31V81.71M191.60 84.06V88.46M200.10 91.45V95.85M207.60 98.18V102.58M215.60 105.81V110.21M222.40 112.83V117.23M229.10 119.98V124.38M236.60 128.07V132.47M243.80 135.53V139.93M251.40 143.76V148.16M261.60 154.47V158.87M271.60 164.02V168.42M282.60 173.56V177.96M294.60 183.08V187.48M306.84 192.70V197.10" stroke="#1996f3" stroke-width="0.9"/>
<path d="M89.00 3.05 L91.08 4.65 L93.17 6.25 L95.25 7.85 L97.33 9.46 L99.42 11.06 L101.50 12.67 L103.58 14.27 L105.66 15.88 L107.74 17.49 L109.81 19.09 L111.89 20.70 L113.97 22.31 L116.05 23.93 L118.12 25.54 L120.20 27.15 L122.27 28.76 L124.34 30.38 L126.42 31.99 L128.49 33.61 L130.56 35.22 L132.63 36.84 L134.71 38.46 L136.78 40.07 L138.86 41.69 L140.93 43.30 L143.00 44.92 L145.07 46.53 L147.14 48.15 L149.21 49.78 L151.28 51.40 L153.34 53.03 L155.40 54.66 L157.46 56.30 L159.51 57.94 L161.55 59.58 L163.60 61.24 L165.63 62.90 L167.67 64.56 L169.69 66.23 L171.72 67.91 L173.74 69.59 L175.76 71.27 L177.78 72.96 L179.80 74.64 L181.81 76.32 L183.83 78.01 L185.85 79.69 L187.87 81.37 L189.89 83.05 L191.91 84.73 L193.93 86.42 L195.95 88.10 L197.96 89.79 L199.98 91.47 L202.00 93.16 L204.01 94.85 L206.02 96.53 L208.04 98.22 L210.05 99.91 L212.06 101.60 L214.08 103.29 L216.09 104.98 L218.10 106.68 L220.12 108.36 L222.14 110.03 L224.17 111.71 L226.20 113.39 L228.21 115.08 L230.21 116.78 L232.19 118.50 L234.15 120.25 L236.08 122.03 L237.98 123.85 L239.87 125.68 L241.77 127.50 L243.66 129.32 L245.55 131.14 L247.44 132.97 L249.34 134.79 L251.24 136.60 L253.16 138.40 L255.09 140.18 L257.03 141.95 L258.98 143.72 L260.94 145.47 L262.90 147.22 L264.88 148.95 L266.85 150.69 L268.83 152.42 L270.82 154.14 L272.82 155.85 L274.84 157.53 L276.88 159.18 L278.94 160.80 L281.03 162.39 L283.14 163.96 L285.27 165.51 L287.41 167.03 L289.57 168.54 L291.73 170.04 L293.89 171.53 L296.06 173.02 L298.23 174.50 L300.42 175.96 L302.61 177.42 L304.82 178.85 L307.04 180.26 L309.28 181.64 L311.53 182.98 L313.80 184.29 L316.10 185.55 L318.43 186.76 L320.77 187.96 L323.12 189.15 L325.46 190.35 L327.79 191.57 L330.10 192.83 L332.39 194.11 L334.68 195.40" stroke="#4df3ce" stroke-width="1.1"/>
<path d="M100.45 9.66V14.06M114.20 20.29V24.69M129.20 31.96V36.36M144.20 43.65V48.05M156.70 53.50V57.90M167.70 62.39V66.79M176.70 69.86V74.26M184.70 76.53V80.93M192.70 83.19V87.59M201.20 90.29V94.69M208.70 96.58V100.98M216.70 103.30V107.70M223.50 108.95V113.35M230.20 114.57V118.97M237.70 121.38V125.78M244.90 128.31V132.71M252.50 135.58V139.98M262.70 144.84V149.24M272.70 153.54V157.94M283.70 162.17V166.57M295.70 170.57V174.97M308.30 178.83V183.23M324.70 187.76V192.16M334.68 193.20V197.60" stroke="#4df3ce" stroke-width="0.9"/>
<path d="M89.00 3.05 L91.08 4.64 L93.15 6.23 L95.23 7.82 L97.30 9.42 L99.37 11.01 L101.45 12.60 L103.52 14.20 L105.59 15.80 L107.66 17.40 L109.73 18.99 L111.80 20.59 L113.87 22.20 L115.93 23.80 L118.00 25.40 L120.06 27.00 L122.13 28.61 L124.19 30.21 L126.26 31.82 L128.32 33.43 L130.38 35.04 L132.44 36.65 L134.50 38.26 L136.56 39.87 L138.62 41.48 L140.68 43.09 L142.74 44.70 L144.80 46.32 L146.85 47.93 L148.91 49.55 L150.97 51.17 L153.02 52.78 L155.08 54.40 L157.13 56.02 L159.18 57.65 L161.23 59.27 L163.28 60.89 L165.33 62.52 L167.37 64.15 L169.42 65.78 L171.46 67.41 L173.50 69.05 L175.54 70.68 L177.57 72.33 L179.60 73.98 L181.62 75.64 L183.64 77.30 L185.66 78.96 L187.68 80.63 L189.70 82.29 L191.72 83.95 L193.75 85.60 L195.77 87.25 L197.81 88.90 L199.85 90.53 L201.90 92.15 L203.96 93.76 L206.03 95.36 L208.11 96.95 L210.19 98.54 L212.27 100.12 L214.35 101.70 L216.44 103.28 L218.52 104.87 L220.59 106.46 L222.67 108.04 L224.76 109.62 L226.84 111.20 L228.93 112.78 L231.01 114.37 L233.08 115.97 L235.13 117.59 L237.16 119.24 L239.16 120.92 L241.11 122.66 L243.04 124.43 L244.99 126.17 L246.99 127.85 L249.05 129.46 L251.13 131.03 L253.24 132.58 L255.37 134.11 L257.50 135.63 L259.62 137.16 L261.73 138.70 L263.83 140.27 L265.92 141.84 L268.00 143.42 L270.09 145.00 L272.18 146.57 L274.28 148.13 L276.39 149.68 L278.51 151.20 L280.64 152.73 L282.77 154.26 L284.91 155.79 L287.06 157.29 L289.25 158.73 L291.46 160.10 L293.72 161.37 L296.06 162.52 L298.45 163.60 L300.85 164.66 L303.22 165.76 L305.54 166.97 L307.83 168.25 L310.09 169.57 L312.37 170.87 L314.67 172.10 L317.02 173.21 L319.42 174.25 L321.84 175.25 L324.27 176.21 L326.71 177.17 L329.14 178.15 L331.56 179.15 L333.97 180.16 L336.38 181.17 L338.79 182.18 L341.20 183.20" stroke="#b2f396" stroke-width="1.1"/>
<path d="M101.55 10.48V14.88M115.30 21.11V25.51M130.30 32.77V37.17M145.30 44.51V48.91M157.80 54.35V58.75M168.80 63.09V67.49M177.80 70.32V74.72M185.80 76.88V81.28M193.80 83.45V87.85M202.30 90.26V94.66M209.80 96.04V100.44M217.80 102.12V106.52M224.60 107.31V111.71M231.30 112.40V116.80M238.80 118.42V122.82M246.00 124.81V129.21M253.60 130.63V135.03M263.80 138.05V142.45M273.80 145.58V149.98M284.80 153.51V157.91M296.80 160.65V165.05M309.40 166.97V171.37M325.80 174.61V179.01M341.20 181.00V185.40" stroke="#b2f396" stroke-width="0.9"/>
<path d="M89.00 3.05 L91.07 4.65 L93.13 6.26 L95.20 7.86 L97.26 9.46 L99.33 11.07 L101.40 12.67 L103.46 14.27 L105.53 15.87 L107.60 17.47 L109.67 19.07 L111.74 20.67 L113.81 22.27 L115.88 23.86 L117.95 25.46 L120.02 27.06 L122.09 28.66 L124.16 30.25 L126.23 31.85 L128.30 33.44 L130.38 35.04 L132.45 36.63 L134.52 38.22 L136.60 39.82 L138.67 41.41 L140.75 43.00 L142.82 44.59 L144.90 46.18 L146.98 47.77 L149.06 49.35 L151.13 50.94 L153.21 52.53 L155.29 54.11 L157.37 55.70 L159.45 57.28 L161.53 58.87 L163.61 60.45 L165.69 62.04 L167.77 63.63 L169.84 65.22 L171.92 66.80 L174.00 68.40 L176.07 69.99 L178.14 71.58 L180.21 73.18 L182.28 74.78 L184.35 76.38 L186.41 77.99 L188.48 79.59 L190.55 81.19 L192.62 82.79 L194.69 84.38 L196.76 85.98 L198.84 87.57 L200.92 89.15 L203.00 90.74 L205.08 92.32 L207.16 93.91 L209.26 95.47 L211.36 97.02 L213.49 98.54 L215.64 100.03 L217.81 101.48 L219.99 102.93 L222.17 104.38 L224.33 105.85 L226.47 107.36 L228.59 108.88 L230.72 110.40 L232.87 111.89 L235.03 113.36 L237.21 114.81 L239.39 116.25 L241.56 117.71 L243.73 119.17 L245.89 120.64 L248.05 122.12 L250.21 123.60 L252.37 125.07 L254.53 126.54 L256.68 128.03 L258.83 129.52 L261.00 130.98 L263.19 132.41 L265.42 133.77 L267.67 135.09 L269.95 136.37 L272.24 137.65 L274.52 138.94 L276.77 140.26 L279.00 141.63 L281.18 143.08 L283.34 144.57 L285.50 146.07 L287.67 147.52 L289.89 148.88 L292.18 150.12 L294.54 151.24 L296.93 152.31 L299.32 153.39 L301.69 154.50 L304.04 155.64 L306.39 156.79 L308.75 157.93 L311.11 159.05 L313.49 160.14 L315.89 161.16 L318.31 162.14 L320.75 163.08 L323.20 164.00 L325.66 164.89 L328.12 165.77 L330.59 166.65 L333.05 167.53 L335.52 168.40 L337.99 169.26 L340.46 170.11 L342.94 170.95 L345.42 171.78 L347.90 172.60" stroke="#ff964f" stroke-width="1.1"/>
<path d="M102.65 11.44V15.84M116.40 22.07V26.47M131.40 33.62V38.02M146.40 45.13V49.53M158.90 54.66V59.06M169.90 63.06V67.46M178.90 69.97V74.37M186.90 76.16V80.56M194.90 82.35V86.75M203.40 88.84V93.24M210.90 94.48V98.88M218.90 100.00V104.40M225.70 104.62V109.02M232.40 109.37V113.77M239.90 114.39V118.79M247.10 119.27V123.67M254.70 124.46V128.86M264.90 131.25V135.65M274.90 136.96V141.36M285.90 144.13V148.53M297.90 150.55V154.95M310.50 156.56V160.96M326.90 163.13V167.53M343.90 169.07V173.47M347.90 170.40V174.80" stroke="#ff964f" stroke-width="0.9"/>
<path d="M89.00 3.05 L91.17 4.71 L93.34 6.37 L95.51 8.04 L97.67 9.70 L99.84 11.36 L102.01 13.02 L104.18 14.69 L106.35 16.35 L108.51 18.01 L110.68 19.68 L112.85 21.34 L115.01 23.01 L117.18 24.67 L119.35 26.33 L121.51 28.00 L123.68 29.66 L125.84 31.33 L128.00 33.00 L130.16 34.68 L132.32 36.36 L134.47 38.04 L136.63 39.72 L138.78 41.41 L140.93 43.09 L143.09 44.77 L145.24 46.45 L147.40 48.13 L149.56 49.80 L151.72 51.47 L153.89 53.14 L156.06 54.79 L158.23 56.45 L160.42 58.09 L162.60 59.72 L164.80 61.35 L167.00 62.97 L169.21 64.58 L171.42 66.18 L173.65 67.76 L175.89 69.32 L178.14 70.87 L180.42 72.38 L182.72 73.86 L185.02 75.34 L187.30 76.83 L189.56 78.36 L191.81 79.92 L194.04 81.49 L196.28 83.06 L198.52 84.63 L200.77 86.17 L203.03 87.71 L205.30 89.24 L207.56 90.76 L209.83 92.29 L212.10 93.81 L214.37 95.32 L216.65 96.84 L218.92 98.35 L221.20 99.86 L223.47 101.38 L225.74 102.90 L228.01 104.43 L230.27 105.95 L232.53 107.49 L234.78 109.04 L237.03 110.59 L239.29 112.13 L241.57 113.64 L243.87 115.11 L246.19 116.56 L248.53 117.97 L250.88 119.36 L253.25 120.71 L255.63 122.05 L258.03 123.37 L260.44 124.66 L262.86 125.93 L265.30 127.15 L267.77 128.31 L270.28 129.41 L272.79 130.50 L275.28 131.61 L277.75 132.78 L280.17 134.04 L282.54 135.40 L284.91 136.78 L287.29 138.12 L289.72 139.35 L292.21 140.47 L294.73 141.54 L297.25 142.60 L299.75 143.69 L302.23 144.85 L304.68 146.05 L307.13 147.26 L309.59 148.46 L312.07 149.60 L314.57 150.69 L317.08 151.77 L319.61 152.83 L322.14 153.86 L324.69 154.86 L327.25 155.82 L329.81 156.74 L332.40 157.62 L334.99 158.47 L337.60 159.29 L340.22 160.08 L342.85 160.83 L345.49 161.54 L348.14 162.20 L350.80 162.80 L353.47 163.40 L356.12 164.05 L358.77 164.71 L361.42 165.39 L364.06 166.09 L366.70 166.80" stroke="#ff0000" stroke-width="1.1"/>
<path d="M103.75 12.16V16.56M117.50 22.72V27.12M132.50 34.30V38.70M147.50 46.01V50.41M160.00 55.58V59.98M171.00 63.67V68.07M180.00 69.90V74.30M188.00 75.11V79.51M196.00 80.67V85.07M204.50 86.50V90.90M212.00 91.54V95.94M220.00 96.87V101.27M226.80 101.42V105.82M233.50 105.96V110.36M241.00 111.06V115.46M248.20 115.57V119.97M255.80 119.94V124.34M266.00 125.27V129.67M276.00 129.75V134.15M287.00 135.76V140.16M299.00 141.16V145.56M311.60 147.18V151.58M328.00 153.89V158.29M345.00 159.21V163.61M354.00 161.33V165.73M366.70 164.60V169.00" stroke="#ff0000" stroke-width="0.9"/>
</g>
<circle cx="154.8" cy="131.8" r="1.6" fill="#8000ff"/>
<circle cx="159.3" cy="138.2" r="1.6" fill="#1996f3"/>
<circle cx="164.4" cy="142.6" r="1.6" fill="#4df3ce"/>
<circle cx="168.8" cy="146.1" r="1.6" fill="#b2f396"/>
<circle cx="173.3" cy="147.9" r="1.6" fill="#ff964f"/>
<circle cx="178.7" cy="148.2" r="1.6" fill="#ff0000"/>
<polygon points="170.60,136.90 171.72,140.35 175.36,140.35 172.42,142.49 173.54,145.95 170.60,143.81 167.66,145.95 168.78,142.49 165.84,140.35 169.48,140.35" fill="#808080"/>
<polygon points="171.80,136.70 172.92,140.15 176.56,140.15 173.62,142.29 174.74,145.75 171.80,143.61 168.86,145.75 169.98,142.29 167.04,140.15 170.68,140.15" fill="#808080"/>
<polygon points="171.20,136.60 172.73,139.70 176.15,140.19 173.67,142.60 174.26,146.01 171.20,144.40 168.14,146.01 168.73,142.60 166.25,140.19 169.67,139.70" fill="#808080"/>
<polygon points="267.30,184.10 268.38,187.42 271.87,187.42 269.04,189.47 270.12,192.78 267.30,190.73 264.48,192.78 265.56,189.47 262.73,187.42 266.22,187.42" fill="#8000ff"/>
<polygon points="301.30,158.20 302.38,161.52 305.87,161.52 303.04,163.57 304.12,166.88 301.30,164.83 298.48,166.88 299.56,163.57 296.73,161.52 300.22,161.52" fill="#ff0000"/>
<rect x="89.00" y="3.05" width="291.50" height="225.65" fill="none" stroke="#929292" stroke-width="1.55"/>
<path d="M89.00 228.70v1.9M89.00 228.70h-1.9M147.30 228.70v1.9M89.00 183.57h-1.9M205.60 228.70v1.9M89.00 138.44h-1.9M263.90 228.70v1.9M89.00 93.31h-1.9M322.20 228.70v1.9M89.00 48.18h-1.9M380.50 228.70v1.9M89.00 3.05h-1.9" stroke="#777" stroke-width="0.7" fill="none"/>
<g font-family="'DejaVu Sans','Liberation Sans',sans-serif" font-size="8.2px" fill="#1a1a1a" stroke="#1a1a1a" stroke-width="0.2">
<text x="89.00" y="239.60" text-anchor="middle">0.0</text>
<text x="84.90" y="232.55" text-anchor="end">0.0</text>
<text x="147.30" y="239.60" text-anchor="middle">0.2</text>
<text x="84.90" y="187.42" text-anchor="end">0.2</text>
<text x="205.60" y="239.60" text-anchor="middle">0.4</text>
<text x="84.90" y="142.29" text-anchor="end">0.4</text>
<text x="263.90" y="239.60" text-anchor="middle">0.6</text>
<text x="84.90" y="97.16" text-anchor="end">0.6</text>
<text x="322.20" y="239.60" text-anchor="middle">0.8</text>
<text x="84.90" y="52.03" text-anchor="end">0.8</text>
<text x="380.50" y="239.60" text-anchor="middle">1.0</text>
<text x="84.90" y="6.90" text-anchor="end">1.0</text>
<text x="225.9" y="250.0" font-style="italic">ρ<tspan dx="0.7">/</tspan><tspan dx="-0.2">ρ</tspan><tspan font-size="6.2px" dx="0.9" dy="1.1">B</tspan></text>
<text transform="translate(67.1,124.8) rotate(-90)" font-style="italic">T<tspan dx="0.4">/</tspan><tspan dx="0">T</tspan><tspan font-size="6.2px" dx="0.3" dy="1.5">B</tspan></text>
</g>
<rect x="323.2" y="6.1" width="54.6" height="64.5" rx="1.2" fill="#fff" fill-opacity="0.8" stroke="#ccc" stroke-width="0.7"/>
<g font-family="'DejaVu Sans','Liberation Sans',sans-serif" font-size="7.3px" fill="#1a1a1a" stroke="#1a1a1a" stroke-width="0.18">
<path d="M325.5 12.20H340.8" stroke="#8000ff" stroke-width="0.95" fill="none"/><path d="M330.1 10.50v3.4M336.7 10.50v3.4" stroke="#8000ff" stroke-width="0.75" fill="none"/>
<text x="346.2" y="14.85" font-style="italic">λ</text><text x="351.3" y="14.85">=</text><text x="358.7" y="14.85">1.50</text>
<path d="M325.5 22.68H340.8" stroke="#1996f3" stroke-width="0.95" fill="none"/><path d="M330.1 20.98v3.4M336.7 20.98v3.4" stroke="#1996f3" stroke-width="0.75" fill="none"/>
<text x="346.2" y="25.33" font-style="italic">λ</text><text x="351.3" y="25.33">=</text><text x="358.7" y="25.33">1.60</text>
<path d="M325.5 33.16H340.8" stroke="#4df3ce" stroke-width="0.95" fill="none"/><path d="M330.1 31.46v3.4M336.7 31.46v3.4" stroke="#4df3ce" stroke-width="0.75" fill="none"/>
<text x="346.2" y="35.81" font-style="italic">λ</text><text x="351.3" y="35.81">=</text><text x="358.7" y="35.81">1.70</text>
<path d="M325.5 43.64H340.8" stroke="#b2f396" stroke-width="0.95" fill="none"/><path d="M330.1 41.94v3.4M336.7 41.94v3.4" stroke="#b2f396" stroke-width="0.75" fill="none"/>
<text x="346.2" y="46.29" font-style="italic">λ</text><text x="351.3" y="46.29">=</text><text x="358.7" y="46.29">1.80</text>
<path d="M325.5 54.12H340.8" stroke="#ff964f" stroke-width="0.95" fill="none"/><path d="M330.1 52.42v3.4M336.7 52.42v3.4" stroke="#ff964f" stroke-width="0.75" fill="none"/>
<text x="346.2" y="56.77" font-style="italic">λ</text><text x="351.3" y="56.77">=</text><text x="358.7" y="56.77">1.90</text>
<path d="M325.5 64.60H340.8" stroke="#ff0000" stroke-width="0.95" fill="none"/><path d="M330.1 62.90v3.4M336.7 62.90v3.4" stroke="#ff0000" stroke-width="0.75" fill="none"/>
<text x="346.2" y="67.25" font-style="italic">λ</text><text x="351.3" y="67.25">=</text><text x="358.7" y="67.25">2.00</text>
</g>
</svg>
</body></html>
